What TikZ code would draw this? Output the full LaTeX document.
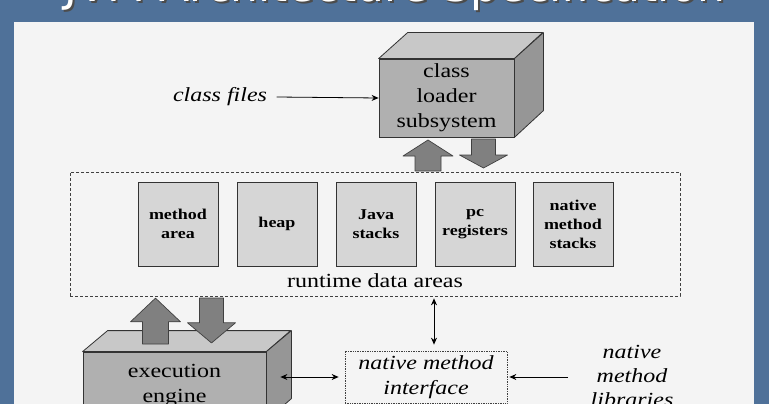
\documentclass[tikz,border=0pt]{standalone}
\usepackage{fontspec}
\setmainfont{Liberation Serif}[FakeStretch=1.2]
\newfontfamily\titlefont{DejaVu Sans}
\usetikzlibrary{arrows.meta}
\definecolor{slideblue}{RGB}{79,113,153}
\definecolor{panelgrey}{RGB}{244,244,244}
\definecolor{facefront}{RGB}{176,176,176}
\definecolor{facetop}{RGB}{200,200,200}
\definecolor{faceside}{RGB}{150,150,150}
\definecolor{blockgrey}{RGB}{128,128,128}
\definecolor{areagrey}{RGB}{214,214,214}
\tikzset{%
  >={Stealth[length=7pt,width=6pt]},
  front/.style={draw=black!80,fill=facefront,line width=0.8pt,inner sep=0,align=center,font=\fontsize{20}{25}\selectfont},
  topface/.style={draw=black!80,fill=facetop,line width=0.8pt,line join=round},
  sideface/.style={draw=black!80,fill=faceside,line width=0.8pt,line join=round},
  areabox/.style={draw=black!80,fill=areagrey,line width=0.8pt,minimum width=80pt,minimum height=84pt,align=center,font=\fontsize{15}{19}\selectfont\bfseries},
  rdabox/.style={draw=black!75,line width=0.7pt,dash pattern=on 3pt off 2pt,minimum width=610pt,minimum height=124pt},
  nmibox/.style={draw=black!75,line width=0.7pt,densely dotted,minimum width=162pt,minimum height=52pt,align=center,font=\fontsize{20}{25}\selectfont\itshape},
  plain/.style={align=center,font=\fontsize{20}{24}\selectfont},
  slanted/.style={align=center,font=\fontsize{20}{24}\selectfont\itshape},
  blockarrow/.style={draw=black!75,fill=blockgrey,line width=0.7pt,line join=round},
  thin/.style={draw=black,line width=0.8pt},
  liftup/.pic={\path[blockarrow] (-13,0) -- (-13,-15) -- (-25,-15) -- (0,-31) -- (25,-15) -- (13,-15) -- (13,0) -- cycle;},
  dropdown/.pic={\path[blockarrow] (-12,0) -- (-12,16) -- (-24,16) -- (0,29) -- (24,16) -- (12,16) -- (12,0) -- cycle;}
}
\begin{document}
\begin{tikzpicture}[x=1pt,y=-1pt]
  \useasboundingbox (0,0) rectangle (769,404);
  \clip (0,0) rectangle (769,404);
  \fill[slideblue] (0,0) rectangle (769,404);
  \node[font=\titlefont\fontsize{44}{44}\selectfont,text=black!70,anchor=base] at (396.5,4) {JVM Architecture Specification};
  \node[font=\titlefont\fontsize{44}{44}\selectfont,text=white,anchor=base] (title) at (394.5,2) {JVM Architecture Specification};
  \fill[panelgrey] (14,22) rectangle (754,410);

  \node[front,minimum width=135pt,minimum height=78pt] (loader) at (446.5,98) {class\\loader\\subsystem};
  \draw[topface] (loader.north west) -- ++(29,-26) -- ++(135,0) -- (loader.north east) -- cycle;
  \draw[sideface] (loader.north east) -- ++(29,-26) -- ++(0,78) -- (loader.south east) -- cycle;
  \node[slanted] (cfiles) at (220,97) {class files};
  \draw[thin,->] ([xshift=6pt]cfiles.east) -- (loader.west);
  \pic at (428,171) {liftup};
  \pic at (483.5,139) {dropdown};

  \node[rdabox] (rda) at (375,234) {};
  \node[areabox] (marea) at (178,224) {method\\area};
  \node[areabox] (heap) at (277,224) {heap};
  \node[areabox] (jstack) at (376,224) {Java\\stacks};
  \node[areabox] (pcreg) at (475,224) {pc\\registers};
  \node[areabox] (nmstack) at (573,224) {native\\method\\stacks};
  \node[plain] (rdalabel) at (375,281) {runtime data areas};

  \node[front,minimum width=183pt,minimum height=68pt] (engine) at (174.5,386) {execution\\engine};
  \draw[topface] (engine.north west) -- ++(25,-21) -- ++(183,0) -- (engine.north east) -- cycle;
  \draw[sideface] (engine.north east) -- ++(25,-21) -- ++(0,68) -- (engine.south east) -- cycle;
  \pic[yscale=1.48] at (155.5,344) {liftup};
  \pic[yscale=1.55] at (211.5,298) {dropdown};

  \node[nmibox] (nmi) at (426,377) {native method\\interface};
  \node[slanted] (nmlib) at (632,376) {native\\method\\libraries};
  \draw[thin,<->] ([xshift=8pt]nmi.north |- rda.south) ++(0,2) -- ([xshift=8pt,yshift=6pt]nmi.north);
  \draw[thin,<->] ([xshift=14pt]engine.east |- nmi.west) -- ([xshift=-6pt]nmi.west);
  \draw[thin,->] ([xshift=-19pt]nmlib.west |- nmi.east) -- ([xshift=2pt]nmi.east);
\end{tikzpicture}
\end{document}
